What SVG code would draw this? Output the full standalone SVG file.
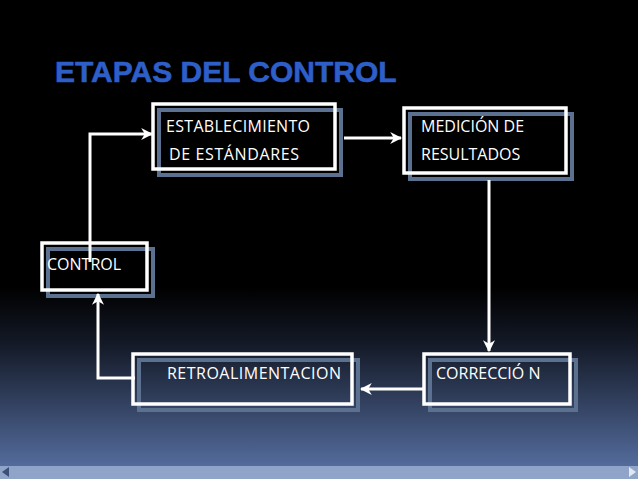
<svg xmlns="http://www.w3.org/2000/svg" width="638" height="479" viewBox="0 0 638 479">
<defs>
<linearGradient id="bg" x1="0" y1="0" x2="0" y2="1">
<stop offset="0" stop-color="#000"/><stop offset="0.6" stop-color="#000"/><stop offset="0.72" stop-color="#141a28"/><stop offset="1" stop-color="#5a74a8"/>
</linearGradient>
<marker id="ah" viewBox="0 0 10 10" refX="9" refY="5" markerWidth="4" markerHeight="4" orient="auto"><path d="M0,0 L10,5 L0,10 L3,5 z" fill="#fff"/></marker>
</defs>
<style>
.sh{fill:none;stroke:#5c7090;stroke-width:4}
.bx{fill:none;stroke:#fff;stroke-width:3.5}
.t{font-family:"Open Sans",sans-serif;font-size:16px;fill:#fff}
.c{fill:none;stroke:#fff;stroke-width:3;marker-end:url(#ah)}
</style>
<rect width="638" height="479" fill="url(#bg)"/>
<rect y="466" width="638" height="13" fill="#8fa4c8"/>
<path d="M2,472 L9,467 L9,477 z" fill="#3a4e78"/>
<path d="M636,472 L629,467 L629,477 z" fill="#e0e8f4"/>
<text x="55" y="82" font-family="Liberation Sans,Arial,sans-serif" font-weight="bold" font-size="30" fill="#2e5fc8" stroke="#2e5fc8" stroke-width="0.6">ETAPAS DEL CONTROL</text>
<g id="n1"><rect class="sh" x="159" y="110" width="182" height="65"/><rect class="bx" x="153" y="104" width="182" height="65"/><text class="t" x="166" y="132" textLength="144">ESTABLECIMIENTO</text><text class="t" x="169" y="160" textLength="130">DE ESTÁNDARES</text></g>
<g id="n2"><rect class="sh" x="410" y="114" width="162" height="65"/><rect class="bx" x="404" y="108" width="162" height="65"/><text class="t" x="421" y="132">MEDICIÓN DE</text><text class="t" x="421" y="160">RESULTADOS</text></g>
<g id="n3"><rect class="sh" x="48" y="249" width="105" height="47"/><rect class="bx" x="42" y="243" width="105" height="47"/><text class="t" x="47" y="270">CONTROL</text></g>
<g id="n4"><rect class="sh" x="139" y="360" width="219" height="50"/><rect class="bx" x="133" y="354" width="219" height="50"/><text class="t" x="167" y="379" textLength="174">RETROALIMENTACION</text></g>
<g id="n5"><rect class="sh" x="430" y="360" width="146" height="50"/><rect class="bx" x="424" y="354" width="146" height="50"/><text class="t" x="436" y="379">CORRECCIÓ N</text></g>
<g id="connectors">
<path class="c" d="M344,138 H401"/>
<path class="c" d="M489,180 V351"/>
<path class="c" d="M424,389 H361"/>
<path class="c" d="M135,378 H98 V294"/>
<path class="c" d="M90,262 V134 H152"/>
</g>
</svg>
